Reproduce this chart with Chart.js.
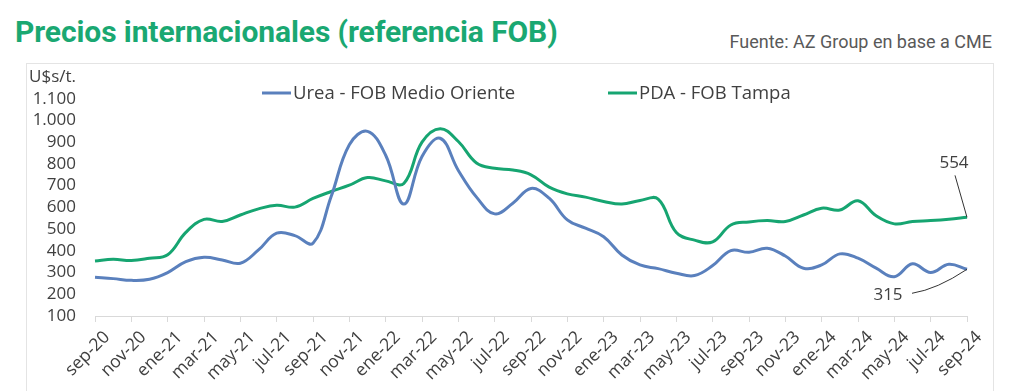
<!DOCTYPE html>
<html>
<head>
<meta charset="utf-8">
<script src="https://cdn.jsdelivr.net/npm/chart.js@4.4.1/dist/chart.umd.min.js"></script>
<style>
  html, body { margin: 0; padding: 0; background: #fff; }
  #wrap { position: relative; width: 1024px; height: 391px; overflow: hidden; }
  #title {
    position: absolute; left: 15px; top: 14px;
    font: 700 30px Roboto, sans-serif; color: #1aa872; letter-spacing: -0.1px;
  }
  #source {
    position: absolute; right: 32px; top: 31px;
    font: 18px Roboto, sans-serif; color: #595959;
  }
  #frame {
    position: absolute; left: 26px; top: 63px; width: 966px; height: 400px;
    border: 1px solid #e4e4e4;
  }
  canvas { position: absolute; left: 0; top: 0; }
</style>
</head>
<body>
<div id="wrap">
  <div id="title">Precios internacionales (referencia FOB)</div>
  <div id="source">Fuente: AZ Group en base a CME</div>
  <div id="frame"></div>
  <canvas id="chart" width="1024" height="391"></canvas>
</div>
<script>
//-- Data (U$s/t.)//
const months = [
    'sep-20', 'oct-20', 'nov-20', 'dic-20',
    'ene-21', 'feb-21', 'mar-21', 'abr-21', 'may-21', 'jun-21', 'jul-21', 'ago-21', 'sep-21', 'oct-21', 'nov-21', 'dic-21',
    'ene-22', 'feb-22', 'mar-22', 'abr-22', 'may-22', 'jun-22', 'jul-22', 'ago-22', 'sep-22', 'oct-22', 'nov-22', 'dic-22',
    'ene-23', 'feb-23', 'mar-23', 'abr-23', 'may-23', 'jun-23', 'jul-23', 'ago-23', 'sep-23', 'oct-23', 'nov-23', 'dic-23',
    'ene-24', 'feb-24', 'mar-24', 'abr-24', 'may-24', 'jun-24', 'jul-24', 'ago-24', 'sep-24'
];

const urea = [
    278, 272, 264, 269,
    300, 350, 370, 358, 343, 404, 481, 470, 435, 650, 888, 950,
    840, 615, 834, 918, 770, 647, 570, 619, 687, 642, 542, 504,
    465, 381, 335, 318, 297, 286, 332, 401, 393, 412, 376, 320,
    335, 386, 366, 320, 281, 340, 300, 338, 315
];

const pda = [
    353, 361, 355, 366,
    382, 485, 545, 535, 565, 593, 610, 601, 641, 673, 702, 737,
    722, 710, 900, 962, 903, 804, 780, 772, 750, 693, 662, 647,
    627, 615, 632, 638, 484, 449, 441, 519, 533, 539, 535, 565,
    596, 588, 630, 561, 524, 535, 539, 545, 554
];

const seriesNames = ['Urea - FOB Medio Oriente', 'PDA - FOB Tampa'];
const seriesColors = ['#5a80bd', '#16a571'];
const yTicks = [100, 200, 300, 400, 500, 600, 700, 800, 900, 1000, 1100];
const yUnit = 'U$s/t.';

const textColor = '#404040';
const tickFont = { family: 'Open Sans', size: 17 };

const fmt = v => v.toLocaleString('de-DE');

//-- Legend and end labels, drawn by hand//
const extras = {
    id: 'extras',
    afterDatasetsDraw(chart) {
        const c = chart.ctx;
        c.save();
        c.fillStyle = textColor;
        c.textBaseline = 'middle';
        // legend
        c.font = '18.5px "Open Sans"';
        const legendItems = [
            { x: 262, color: seriesColors[0], text: seriesNames[0] },
            { x: 608, color: seriesColors[1], text: seriesNames[1] }
        ];
        for (const item of legendItems) {
            c.strokeStyle = item.color;
            c.lineWidth = 3;
            c.beginPath();
            c.moveTo(item.x, 93);
            c.lineTo(item.x + 29, 93);
            c.stroke();
            c.fillText(item.text, item.x + 31, 94);
        }
        // last values
        c.font = '17px "Open Sans"';
        const last = months.length - 1;
        const pUrea = chart.getDatasetMeta(0).data[last];
        const pPda = chart.getDatasetMeta(1).data[last];
        c.strokeStyle = '#333';
        c.lineWidth = 1;
        c.textAlign = 'center';
        c.beginPath();
        c.moveTo(pPda.x - 12, pPda.y - 42);
        c.lineTo(pPda.x, pPda.y);
        c.stroke();
        c.fillText(String(pda[last]), pPda.x - 13, pPda.y - 54);
        c.beginPath();
        c.moveTo(pUrea.x - 55, pUrea.y + 24);
        c.quadraticCurveTo(pUrea.x - 30, pUrea.y + 20, pUrea.x, pUrea.y);
        c.stroke();
        c.fillText(String(urea[last]), pUrea.x - 79, pUrea.y + 26);
        c.restore();
    }
};

const ctx = document.getElementById('chart');

new Chart(ctx, {
    type: 'line',
    data: {
        labels: months,
        datasets: [
            {
                label: seriesNames[0],
                data: urea,
                borderColor: seriesColors[0],
                borderWidth: 3,
                pointRadius: 0,
                tension: 0.4
            },
            {
                label: seriesNames[1],
                data: pda,
                borderColor: seriesColors[1],
                borderWidth: 3,
                pointRadius: 0,
                tension: 0.4
            }
        ]
    },
    options: {
        responsive: false,
        animation: false,
        layout: { padding: { left: 0, right: 57, top: 77, bottom: 0 } },
        plugins: {
            legend: { display: false },
            tooltip: { enabled: false }
        },
        scales: {
            x: {
                offset: false,
                afterFit: s => { s.height = 75; },
                grid: {
                    drawOnChartArea: false,
                    tickLength: 6,
                    color: c => (c.index % 2 === 0 ? '#d9d9d9' : 'rgba(0,0,0,0)')
                },
                border: { color: '#d9d9d9' },
                ticks: {
                    autoSkip: false,
                    minRotation: 45,
                    maxRotation: 45,
                    labelOffset: 12,
                    padding: 5,
                    color: textColor,
                    font: { family: 'Open Sans', size: 17.5 },
                    callback: (v, i) => (i % 2 === 0 ? months[i] : '')
                }
            },
            y: {
                min: 100,
                max: 1200,
                afterFit: s => { s.width = 95; },
                afterBuildTicks: s => {
                    s.ticks = yTicks.concat([1200]).map(v => ({ value: v }));
                },
                grid: { display: false, drawTicks: false },
                border: { display: false },
                ticks: {
                    autoSkip: false,
                    padding: 19,
                    color: textColor,
                    font: tickFont,
                    callback: v => (v === 1200 ? yUnit : fmt(v))
                }
            }
        }
    },
    plugins: [extras]
});
</script>
</body>
</html>
